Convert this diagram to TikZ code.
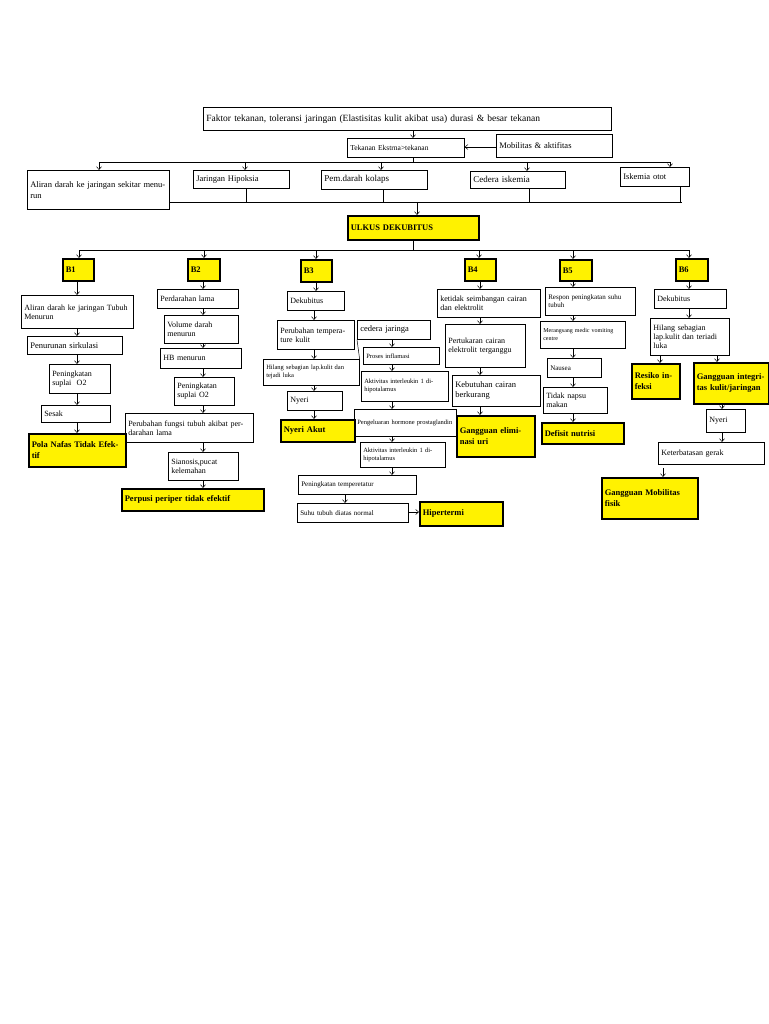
\documentclass[tikz,border=0pt]{standalone}
\usepackage{fontspec}
\setmainfont{Liberation Serif}
\usetikzlibrary{arrows.meta}
\tikzset{
  arr/.style={-{Straight Barb[length=3pt,width=5pt]},line width=0.5pt},
  ln/.style={line width=0.5pt},
  plain/.style={draw,line width=0.6pt,align=left,inner xsep=3pt,inner ysep=1pt,font=\fontsize{8}{9}\selectfont},
  hl/.style={plain,fill=yellow,line width=1.6pt,font=\fontsize{8.5}{11}\selectfont\bfseries}
}
\newcommand\bx[7]{\pgfmathsetmacro\bw{#4-#2-6}\pgfmathsetmacro\bh{#5-#3}%
  \node[#6,anchor=north west,text width=\bw pt,minimum height=\bh pt] (#1) at (#2,#3) {#7};}
\begin{document}
\begin{tikzpicture}[x=1pt,y=-1pt]
\useasboundingbox[fill=white] (0,0) rectangle (768,1024);
% top
\bx{top}{203}{107}{611}{130}{plain,font=\fontsize{9.5}{11}\selectfont}{Faktor tekanan, toleransi jaringan (Elastisitas kulit akibat usa) durasi \& besar tekanan}
\bx{tek}{347}{138}{464}{157}{plain,font=\fontsize{7.5}{9}\selectfont}{Tekanan Ekstrna>tekanan}
\bx{mob}{496}{134}{612}{157}{plain,font=\fontsize{8.5}{10}\selectfont}{Mobilitas \& aktifitas}
\draw[arr] (413,0 |- top.south) -- (413,0 |- tek.north);
\draw[arr] (mob.west |- 0,147) -- (tek.east |- 0,147);
\bx{r1}{27}{170}{169}{209}{plain,font=\fontsize{8.5}{11}\selectfont}{Aliran darah ke jaringan sekitar menurun}
\bx{r2}{193}{170}{289}{188}{plain,font=\fontsize{8.5}{10}\selectfont}{Jaringan Hipoksia}
\bx{r3}{321}{170}{427}{189}{plain,font=\fontsize{9}{10}\selectfont}{Pem.darah kolaps}
\bx{r4}{470}{171}{565}{188}{plain,font=\fontsize{9}{10}\selectfont}{Cedera iskemia}
\bx{r5}{620}{167}{689}{186}{plain,font=\fontsize{8.5}{10}\selectfont}{Iskemia otot}
\coordinate (b1) at (413,162);
\draw[ln] (tek.south -| b1) -- (b1);
\draw[ln] (99,162) -- (670,162);
\foreach \x/\n in {99/r1,245/r2,381/r3,527/r4,670/r5}{\draw[arr] (\x,162) -- (\x,0 |- \n.north);}
\coordinate (b2) at (417,202);
\draw[ln] (r1.east |- b2) -- (682,202);
\foreach \x/\n in {246/r2,383/r3,529/r4,680/r5}{\draw[ln] (\x,0 |- \n.south) -- (\x,202);}
\bx{ulk}{347}{215}{478}{239}{hl}{ULKUS DEKUBITUS}
\draw[arr] (b2) -- (417,0 |- ulk.north);
\coordinate (b3) at (413,250);
\draw[ln] (413,0 |- ulk.south) -- (b3);
\draw[ln] (79,250) -- (689,250);
\bx{B1}{62}{258}{93}{280}{hl}{B1}
\bx{B2}{187}{258}{219}{280}{hl}{B2}
\bx{B3}{300}{259}{331}{281}{hl}{B3}
\bx{B4}{464}{258}{495}{280}{hl}{B4}
\bx{B5}{559}{259}{591}{280}{hl}{B5}
\bx{B6}{675}{258}{707}{280}{hl}{B6}
\foreach \x/\n in {79/B1,204/B2,316/B3,479/B4,573/B5,689/B6}{\draw[arr] (\x,250) -- (\x,0 |- \n.north);}
% B1
\bx{a1}{21}{295}{133}{328}{plain}{Aliran darah ke jaringan Tubuh Menurun}
\bx{a2}{27}{336}{122}{354}{plain,font=\fontsize{8.5}{10}\selectfont}{Penurunan sirkulasi}
\bx{a3}{49}{364}{110}{393}{plain}{Peningkatan suplai\ \ O2}
\bx{a4}{41}{405}{110}{422}{plain}{Sesak}
\bx{a5}{28}{433}{125}{466}{hl}{Pola Nafas Tidak Efektif}
\draw[arr] (77,0 |- B1.south) -- (77,0 |- a1.north);
\foreach \p/\q in {a1/a2,a2/a3,a3/a4,a4/a5}{\draw[arr] (77,0 |- \p.south) -- (77,0 |- \q.north);}
% B2
\bx{c1}{157}{289}{238}{308}{plain}{Perdarahan lama}
\bx{c2}{164}{315}{238}{343}{plain}{Volume darah menurun}
\bx{c3}{160}{348}{241}{368}{plain}{HB menurun}
\bx{c4}{174}{377}{234}{405}{plain}{Peningkatan suplai O2}
\bx{c5}{125}{413}{253}{442}{plain}{Perubahan fungsi tubuh akibat perdarahan lama}
\bx{c6}{168}{452}{238}{480}{plain}{Sianosis,pucat kelemahan}
\bx{c7}{121}{488}{263}{510}{hl}{Perpusi periper tidak efektif}
\draw[arr] (203,0 |- B2.south) -- (203,0 |- c1.north);
\foreach \p/\q in {c1/c2,c2/c3,c3/c4,c4/c5,c5/c6,c6/c7}{\draw[arr] (203,0 |- \p.south) -- (203,0 |- \q.north);}
% B3
\bx{d1}{287}{291}{344}{310}{plain}{Dekubitus}
\bx{d2}{277}{320}{354}{349}{plain}{Perubahan temperature kulit}
\bx{d3}{263}{359}{359}{385}{plain,font=\fontsize{6.5}{8}\selectfont}{Hilang sebagian lap.kulit dan tejadi luka}
\bx{d4}{287}{391}{342}{410}{plain}{Nyeri}
\bx{d5}{280}{419}{354}{441}{hl}{Nyeri Akut}
\draw[arr] (316,0 |- B3.south) -- (316,0 |- d1.north);
\foreach \p/\q in {d1/d2,d2/d3,d3/d4,d4/d5}{\draw[arr] (314,0 |- \p.south) -- (314,0 |- \q.north);}
\bx{e1}{357}{320}{430}{339}{plain,font=\fontsize{8.5}{10}\selectfont}{cedera jaringa}
\bx{e2}{363}{347}{439}{364}{plain,font=\fontsize{6.5}{8}\selectfont}{Proses inflamasi}
\bx{e3}{361}{371}{448}{401}{plain,font=\fontsize{6.5}{8}\selectfont}{Aktivitas interleukin 1 dihipotalamus}
\bx{e4}{354}{409}{456}{436}{plain,font=\fontsize{6.5}{8}\selectfont}{Pengeluaran hormone prostaglandin}
\bx{e5}{360}{442}{445}{467}{plain,font=\fontsize{6.5}{8}\selectfont}{Aktivitas interleukin 1 dihipotalamus}
\bx{e6}{298}{475}{416}{494}{plain,font=\fontsize{7}{8}\selectfont}{Peningkatan temperetatur}
\bx{e7}{297}{503}{408}{522}{plain,font=\fontsize{7}{8}\selectfont}{Suhu tubuh diatas normal}
\bx{e8}{419}{501}{502}{525}{hl}{Hipertermi}
\draw[ln] (d3.north east) -- (e1.south west);
\foreach \p/\q in {e1/e2,e2/e3,e3/e4,e4/e5,e5/e6}{\draw[arr] (392,0 |- \p.south) -- (392,0 |- \q.north);}
\draw[arr] (345,0 |- e6.south) -- (345,0 |- e7.north);
\draw[arr] (e7.east |- 0,512) -- (e8.west |- 0,512);
% B4
\bx{f1}{437}{289}{540}{317}{plain}{ketidak seimbangan cairan dan elektrolit}
\bx{f2}{445}{324}{525}{367}{plain}{Pertukaran cairan elektrolit terganggu}
\bx{f3}{452}{375}{540}{406}{plain,font=\fontsize{8.5}{10}\selectfont}{Kebutuhan cairan berkurang}
\bx{f4}{456}{415}{534}{456}{hl}{Gangguan eliminasi uri}
\draw[arr] (480,0 |- B4.south) -- (480,0 |- f1.north);
\foreach \p/\q in {f1/f2,f2/f3,f3/f4}{\draw[arr] (480,0 |- \p.south) -- (480,0 |- \q.north);}
% B5
\bx{g1}{545}{287}{635}{315}{plain,font=\fontsize{7}{8}\selectfont}{Respon peningkatan suhu tubuh}
\bx{g2}{540}{321}{625}{348}{plain,font=\fontsize{6}{8}\selectfont}{Merangsang medic vomiting centre}
\bx{g3}{547}{358}{601}{377}{plain,font=\fontsize{7}{8}\selectfont}{Nausea}
\bx{g4}{543}{387}{607}{413}{plain}{Tidak napsu makan}
\bx{g5}{541}{422}{623}{443}{hl}{Defisit nutrisi}
\draw[arr] (573,0 |- B5.south) -- (573,0 |- g1.north);
\foreach \p/\q in {g1/g2,g2/g3,g3/g4,g4/g5}{\draw[arr] (573,0 |- \p.south) -- (573,0 |- \q.north);}
% B6
\bx{h1}{654}{289}{726}{308}{plain}{Dekubitus}
\bx{h2}{650}{318}{729}{355}{plain}{Hilang sebagian lap.kulit dan teriadi luka}
\bx{h3}{631}{363}{679}{398}{hl}{Resiko infeksi}
\bx{h4}{693}{362}{768}{403}{hl}{Gangguan integritas kulit/jaringan}
\bx{h5}{706}{409}{745}{432}{plain}{Nyeri}
\bx{h6}{658}{442}{764}{464}{plain}{Keterbatasan gerak}
\bx{h7}{601}{477}{697}{518}{hl}{Gangguan Mobilitas fisik}
\draw[arr] (689,0 |- B6.south) -- (689,0 |- h1.north);
\draw[arr] (689,0 |- h1.south) -- (689,0 |- h2.north);
\draw[arr] (660,0 |- h2.south) -- (660,0 |- h3.north);
\draw[arr] (717,0 |- h2.south) -- (717,0 |- h4.north);
\draw[arr] (722,0 |- h4.south) -- (722,0 |- h5.north);
\draw[arr] (722,0 |- h5.south) -- (722,0 |- h6.north);
\coordinate (k) at (663,468);
\draw[arr] (k) -- (663,0 |- h7.north);
\end{tikzpicture}
\end{document}
